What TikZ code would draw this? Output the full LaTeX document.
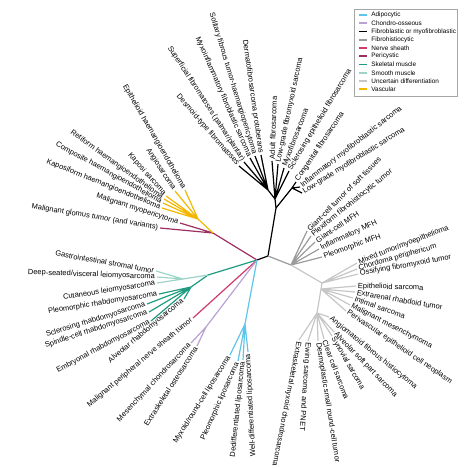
\documentclass[tikz,border=0pt]{standalone}
\usepackage{fontspec}
\setmainfont{Liberation Sans}
\usetikzlibrary{positioning}
\definecolor{adipoblue}{HTML}{5EC4E8}
\definecolor{chondrolilac}{HTML}{B8A2D2}
\definecolor{histgray}{HTML}{9B9B9B}
\definecolor{nervepink}{HTML}{D23A6C}
\definecolor{pericrimson}{HTML}{9E2E62}
\definecolor{skelteal}{HTML}{1F9C80}
\definecolor{smoothteal}{HTML}{9ED4C8}
\definecolor{uncgray}{HTML}{C6C6C6}
\definecolor{vascgold}{HTML}{F2B700}

\begin{document}
\begin{tikzpicture}[
    x=0.5pt, y=-0.5pt,
    font=\fontsize{3.75}{4.5}\selectfont,
    br/.style={line width=0.6pt},
    labL/.style={anchor=east, inner sep=0.8pt},
    labR/.style={anchor=west, inner sep=0.8pt},
    legline/.style={line width=0.8pt},
    legtxt/.style={anchor=west, inner sep=0pt, font=\fontsize{3.2}{3.8}\selectfont},
]
\useasboundingbox (0,0) rectangle (474,467);

% Inner nodes
\coordinate (r1) at (268,256);
\coordinate (r2) at (257,260);
\coordinate (b0) at (276,208);
\coordinate (b2) at (275,199);
\coordinate (bl) at (268,190);
\coordinate (b3) at (292,188);
\coordinate (g1) at (291,265);
\coordinate (g2) at (322,283);
\coordinate (g3) at (321,289);
\coordinate (g4) at (317,313);
\coordinate (v0) at (213,233);
\coordinate (vas) at (198,219);
\coordinate (t0) at (208,275);
\coordinate (sm) at (183,279);
\coordinate (sk) at (191,287);
\coordinate (ch) at (206,327);
\coordinate (ad) at (245,324);

% Fibroblastic or myofibroblastic
\coordinate (desmoid) at (239,166);
\coordinate (superficial) at (244,162);
\coordinate (myxoinfl) at (250,158);
\coordinate (solitary) at (255,156);
\coordinate (dermato) at (261,155);
\coordinate (adult) at (272,161);
\coordinate (lgfms) at (278,164);
\coordinate (myxofibro) at (284,168);
\coordinate (sclerosing) at (289,171);
\coordinate (congenital) at (296,182);
\coordinate (inflmyo) at (300,187);
\coordinate (lgmyo) at (302,193);
\draw[br] (r2) -- (r1) -- (b0) -- (b2) -- (bl);
\draw[br] (b0) -- (b3);
\draw[br] (bl) -- (desmoid) (bl) -- (superficial) (bl) -- (myxoinfl) (bl) -- (solitary) (bl) -- (dermato);
\draw[br] (b2) -- (adult) (b2) -- (lgfms) (b2) -- (myxofibro) (b2) -- (sclerosing);
\draw[br] (b3) -- (congenital) (b3) -- (inflmyo) (b3) -- (lgmyo);
\node[labL, rotate=-49] (desmoidlab) at (desmoid) {Desmoid-type fibromatoses};
\node[labL, rotate=-57] (superficiallab) at (superficial) {Superficial fibromatoses (palmar/plantar)};
\node[labL, rotate=-66.5] (myxoinfllab) at (myxoinfl) {Myxoinflammatory fibroblastic sarcoma};
\node[labL, rotate=-73] (solitarylab) at (solitary) {Solitary fibrous tumor-haemangiopericytoma};
\node[labL, rotate=-82] (dermatolab) at (dermato) {Dermatofibrosarcoma protuberans};
\node[labR, rotate=88] (adultlab) at (adult) {Adult fibrosarcoma};
\node[labR, rotate=78] (lgfmslab) at (lgfms) {Low-grade fibromyxoid sarcoma};
\node[labR, rotate=69] (myxofibrolab) at (myxofibro) {Myxofibrosarcoma};
\node[labR, rotate=59] (sclerosinglab) at (sclerosing) {Sclerosing epithelioid fibrosarcoma};
\node[labR, rotate=56] (congenitallab) at (congenital) {Congenital fibrosarcoma};
\node[labR, rotate=38] (inflmyolab) at (inflmyo) {Inflammatory myofibroblastic sarcoma};
\node[labR, rotate=32] (lgmyolab) at (lgmyo) {Low-grade myofibroblastic sarcoma};

% Fibrohistiocytic
\coordinate (gctst) at (307,231);
\coordinate (plexiform) at (311,236);
\coordinate (gcmfh) at (315,242);
\coordinate (inflmfh) at (319,249);
\coordinate (pleomfh) at (322,257);
\draw[br, histgray] (r1) -- (g1);
\draw[br, histgray] (g1) -- (gctst) (g1) -- (plexiform) (g1) -- (gcmfh) (g1) -- (inflmfh) (g1) -- (pleomfh);
\node[labR, rotate=45] (gctstlab) at (gctst) {Giant-cell tumor of soft tissues};
\node[labR, rotate=39] (plexiformlab) at (plexiform) {Plexiform fibrohistiocytic tumor};
\node[labR, rotate=34] (gcmfhlab) at (gcmfh) {Giant-cell MFH};
\node[labR, rotate=25] (inflmfhlab) at (inflmfh) {Inflammatory MFH};
\node[labR, rotate=19] (pleomfhlab) at (pleomfh) {Pleomorphic MFH};

% Uncertain differentiation
\coordinate (mixed) at (357,263);
\coordinate (chordoma) at (357,269);
\coordinate (ossifying) at (358,274);
\coordinate (episarc) at (356,286);
\coordinate (extrarenal) at (355,292);
\coordinate (intimal) at (353,298);
\coordinate (malmes) at (350,305);
\coordinate (pecoma) at (346,311);
\coordinate (angiomatoid) at (329,317);
\coordinate (asps) at (334,332);
\coordinate (synovial) at (332,336);
\coordinate (clearcell) at (324,339);
\coordinate (dsrct) at (318,341);
\coordinate (ewing) at (308,341);
\coordinate (emc) at (299,340);
\draw[br, uncgray] (g1) -- (g2) -- (g3) -- (g4);
\draw[br, uncgray] (g2) -- (mixed) (g2) -- (chordoma) (g2) -- (ossifying);
\draw[br, uncgray] (g3) -- (episarc) (g3) -- (extrarenal) (g3) -- (intimal) (g3) -- (malmes) (g3) -- (pecoma);
\draw[br, uncgray] (g4) -- (angiomatoid) (g4) -- (asps) (g4) -- (synovial) (g4) -- (clearcell) (g4) -- (dsrct) (g4) -- (ewing) (g4) -- (emc);
\node[labR, rotate=21] (mixedlab) at (mixed) {Mixed tumor/myoepithelioma};
\node[labR, rotate=16] (chordomalab) at (chordoma) {Chordoma periphericum};
\node[labR, rotate=10] (ossifyinglab) at (ossifying) {Ossifying fibromyxoid tumor};
\node[labR, rotate=-2] (episarclab) at (episarc) {Epithelioid sarcoma};
\node[labR, rotate=-10] (extrarenallab) at (extrarenal) {Extrarenal rhabdoid tumor};
\node[labR, rotate=-19] (intimallab) at (intimal) {Intimal sarcoma};
\node[labR, rotate=-27] (malmeslab) at (malmes) {Malignant mesenchymoma};
\node[labR, rotate=-34] (pecomalab) at (pecoma) {Perivascular epithelioid cell neoplasm};
\node[labR, rotate=-39] (angiomatoidlab) at (angiomatoid) {Angiomatoid fibrous histiocytoma};
\node[labR, rotate=-46] (aspslab) at (asps) {Alveolar soft part sarcoma};
\node[labR, rotate=-60] (synoviallab) at (synovial) {Synovial sarcoma};
\node[labR, rotate=-69] (clearcelllab) at (clearcell) {Clear cell sarcoma};
\node[labR, rotate=-81] (dsrctlab) at (dsrct) {Desmoplastic small round-cell tumor};
\node[labR, rotate=-94] (ewinglab) at (ewing) {Ewing sarcoma and PNET};
\node[labR, rotate=-101] (emclab) at (emc) {Extraskeletal myxoid chondrosarcoma};

% Pericystic and vascular
\coordinate (myoperi) at (180,223);
\coordinate (glomus) at (160,228);
\coordinate (ehe) at (185,190);
\coordinate (angiosarc) at (175,191);
\coordinate (kaposi) at (166,196);
\coordinate (retiform) at (164,199);
\coordinate (composite) at (163,203);
\coordinate (kaposiform) at (162,208);
\draw[br, pericrimson] (r2) -- (v0);
\draw[br, pericrimson] (v0) -- (myoperi) (v0) -- (glomus);
\draw[br, vascgold] (v0) -- (vas);
\draw[br, vascgold] (vas) -- (ehe) (vas) -- (angiosarc) (vas) -- (kaposi) (vas) -- (retiform) (vas) -- (composite) (vas) -- (kaposiform);
\node[labL, rotate=-18] (myoperilab) at (myoperi) {Malignant myopericytoma};
\node[labL, rotate=-9.5] (glomuslab) at (glomus) {Malignant glomus tumor (and variants)};
\node[labL, rotate=-60] (ehelab) at (ehe) {Epithelioid haemangioendothelioma};
\node[labL, rotate=-57] (angiosarclab) at (angiosarc) {Angiosarcoma};
\node[labL, rotate=-49] (kaposilab) at (kaposi) {Kaposi sarcoma};
\node[labL, rotate=-36] (retiformlab) at (retiform) {Retiform haemangioendothelioma};
\node[labL, rotate=-29] (compositelab) at (composite) {Composite haemangioendothelioma};
\node[labL, rotate=-22] (kaposiformlab) at (kaposiform) {Kaposiform haemangioendothelioma};

% Smooth and skeletal muscle
\coordinate (gist) at (156,271);
\coordinate (deepleio) at (157,277);
\coordinate (cutleio) at (157,283);
\coordinate (pleorms) at (159,294);
\coordinate (sclrms) at (147,304);
\coordinate (spindlerms) at (149,312);
\coordinate (embrms) at (151,321);
\coordinate (alvrms) at (184,299);
\draw[br, skelteal] (r2) -- (t0) -- (sk);
\draw[br, smoothteal] (t0) -- (sm);
\draw[br, smoothteal] (sm) -- (gist) (sm) -- (deepleio) (sm) -- (cutleio);
\draw[br, skelteal] (sk) -- (pleorms) (sk) -- (sclrms) (sk) -- (spindlerms) (sk) -- (embrms) (sk) -- (alvrms);
\node[labL, rotate=-10] (gistlab) at (gist) {Gastrointestinal stromal tumor};
\node[labL, rotate=-2] (deepleiolab) at (deepleio) {Deep-seated/visceral leiomyosarcoma};
\node[labL, rotate=9] (cutleiolab) at (cutleio) {Cutaneous leiomyosarcoma};
\node[labL, rotate=9] (pleormslab) at (pleorms) {Pleomorphic rhabdomyosarcoma};
\node[labL, rotate=17] (sclrmslab) at (sclrms) {Sclerosing rhabdomyosarcoma};
\node[labL, rotate=18] (spindlermslab) at (spindlerms) {Spindle-cell rhabdomyosarcoma};
\node[labL, rotate=28] (embrmslab) at (embrms) {Embryonal rhabdomyosarcoma};
\node[labL, rotate=40] (alvrmslab) at (alvrms) {Alveolar rhabdomyosarcoma};

% Nerve sheath, chondro-osseous, adipocytic
\coordinate (mpnst) at (193,318);
\coordinate (mesch) at (191,343);
\coordinate (exos) at (197,346);
\coordinate (myxlipo) at (230,355);
\coordinate (pleolipo) at (238,361);
\coordinate (dedif) at (243,360);
\coordinate (wdlipo) at (248,352);
\draw[br, nervepink] (r2) -- (mpnst);
\draw[br, chondrolilac] (r2) -- (ch);
\draw[br, chondrolilac] (ch) -- (mesch) (ch) -- (exos);
\draw[br, adipoblue] (r2) -- (ad);
\draw[br, adipoblue] (ad) -- (myxlipo) (ad) -- (pleolipo) (ad) -- (dedif) (ad) -- (wdlipo);
\node[labL, rotate=40] (mpnstlab) at (mpnst) {Malignant peripheral nerve sheath tumor};
\node[labL, rotate=47] (meschlab) at (mesch) {Mesenchymal chondrosarcoma};
\node[labL, rotate=57] (exoslab) at (exos) {Extraskeletal osteosarcoma};
\node[labL, rotate=58] (myxlipolab) at (myxlipo) {Myxoid/round-cell liposarcoma};
\node[labL, rotate=66] (pleolipolab) at (pleolipo) {Pleomorphic liposarcoma};
\node[labL, rotate=84] (dediflab) at (dedif) {Dedifferentiated liposarcoma};
\node[labL, rotate=93] (wdlipolab) at (wdlipo) {Well-differentiated liposarcoma};

% Legend
\draw[gray!70, line width=0.4pt, fill=white] (354,9) rectangle (457,96);
\draw[legline, adipoblue] (359,15) -- (367,15);
\node[legtxt] (legadipo) at (371,15) {Adipocytic};
\draw[legline, chondrolilac] (359,23.25) -- (367,23.25);
\node[legtxt] (legchondro) at (371,23.25) {Chondro-osseous};
\draw[legline, black] (359,31.5) -- (367,31.5);
\node[legtxt] (legfibro) at (371,31.5) {Fibroblastic or myofibroblastic};
\draw[legline, histgray] (359,39.75) -- (367,39.75);
\node[legtxt] (leghist) at (371,39.75) {Fibrohistiocytic};
\draw[legline, nervepink] (359,48) -- (367,48);
\node[legtxt] (legnerve) at (371,48) {Nerve sheath};
\draw[legline, pericrimson] (359,56.25) -- (367,56.25);
\node[legtxt] (legperi) at (371,56.25) {Pericystic};
\draw[legline, skelteal] (359,64.5) -- (367,64.5);
\node[legtxt] (legskel) at (371,64.5) {Skeletal muscle};
\draw[legline, smoothteal] (359,72.75) -- (367,72.75);
\node[legtxt] (legsmooth) at (371,72.75) {Smooth muscle};
\draw[legline, uncgray] (359,81) -- (367,81);
\node[legtxt] (legunc) at (371,81) {Uncertain differentiation};
\draw[legline, vascgold] (359,89.25) -- (367,89.25);
\node[legtxt] (legvasc) at (371,89.25) {Vascular};

\end{tikzpicture}
\end{document}
